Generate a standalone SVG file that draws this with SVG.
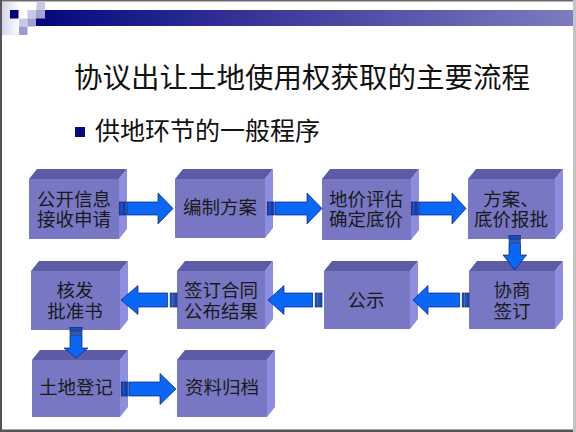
<svg xmlns="http://www.w3.org/2000/svg" width="576" height="432" viewBox="0 0 576 432">
<defs>
<linearGradient id="bar" x1="0" y1="0" x2="1" y2="0">
<stop offset="0" stop-color="#06067e"/>
<stop offset="1" stop-color="#7c7cc0"/>
</linearGradient>
<linearGradient id="fade" x1="0" y1="0" x2="1" y2="0">
<stop offset="0" stop-color="#d4d4ec"/>
<stop offset="1" stop-color="#ffffff"/>
</linearGradient>
<style>
.front{fill:#7777c4;}
.top{fill:#5b5ba6;}
.side{fill:#8e8ee0;}
.lbl{font-family:"Liberation Sans","Noto Sans CJK SC",sans-serif;font-size:18.5px;fill:#1a1a1a;text-anchor:middle;}
.title{font-family:"Liberation Sans","Noto Sans CJK SC",sans-serif;fill:#111;}
.arr{fill:#0a66f4;stroke:#0a1e6e;stroke-width:0.7;stroke-linejoin:miter;}
</style>
</defs>
<rect x="0" y="0" width="576" height="432" fill="#ffffff"/>
<!-- frame -->
<rect x="0" y="0" width="576" height="1.5" fill="#6a6a6a"/>
<rect x="0" y="0" width="2" height="432" fill="#555555"/>
<rect x="0" y="429.5" width="576" height="2.5" fill="#555555"/>
<rect x="573" y="0" width="3" height="432" fill="#c4c4c4"/>
<!-- header decoration -->
<rect x="2" y="2" width="18" height="33" fill="url(#fade)"/>
<rect x="36" y="10" width="537" height="16" fill="url(#bar)"/>
<rect x="10" y="10" width="8.5" height="8.5" fill="#00007e"/>
<rect x="36.5" y="1.5" width="8.5" height="8.5" fill="#c8c8e6"/>
<rect x="27.5" y="10" width="8.5" height="8.5" fill="#c8c8e6"/>
<rect x="36" y="10" width="9" height="8.5" fill="#a4a4d2"/>
<rect x="19" y="18.5" width="8.5" height="8" fill="#c8c8e6"/>
<rect x="27.5" y="18.5" width="8.5" height="8" fill="#a0a0d0"/>
<rect x="19" y="26.5" width="8.5" height="8.5" fill="#9c9cd2"/>
<!-- title -->
<text class="title" x="74" y="88" font-size="28.5">协议出让土地使用权获取的主要流程</text>
<rect x="75" y="127" width="10" height="10" fill="#0a0a80"/>
<text class="title" x="95" y="140" font-size="25">供地环节的一般程序</text>

<g id="node-gongkai">
<path class="top" d="M29,179 L37,169 L127,169 L119,179 Z"/>
<path class="side" d="M119,179 L127,169 L127,229 L119,239 Z"/>
<rect class="front" x="29" y="179" width="90" height="60"/>
<text class="lbl" x="74" y="205.5">公开信息</text>
<text class="lbl" x="74" y="226">接收申请</text>
</g>
<g id="node-bianzhi">
<path class="top" d="M175,179 L183,169 L273,169 L265,179 Z"/>
<path class="side" d="M265,179 L273,169 L273,228 L265,238 Z"/>
<rect class="front" x="175" y="179" width="90" height="59"/>
<text class="lbl" x="220" y="214">编制方案</text>
</g>
<g id="node-dijia">
<path class="top" d="M322,179 L330,169 L419,169 L411,179 Z"/>
<path class="side" d="M411,179 L419,169 L419,230 L411,240 Z"/>
<rect class="front" x="322" y="179" width="89" height="61"/>
<text class="lbl" x="366" y="205.5">地价评估</text>
<text class="lbl" x="366" y="226">确定底价</text>
</g>
<g id="node-baopi">
<path class="top" d="M468,179 L476,169 L563,169 L555,179 Z"/>
<path class="side" d="M555,179 L563,169 L563,229 L555,239 Z"/>
<rect class="front" x="468" y="179" width="87" height="60"/>
<text class="lbl" x="511" y="205.5">方案、</text>
<text class="lbl" x="511" y="226">底价报批</text>
</g>

<g id="node-xieshang">
<path class="top" d="M469,271 L477,261 L563,261 L555,271 Z"/>
<path class="side" d="M555,271 L563,261 L563,319 L555,329 Z"/>
<rect class="front" x="469" y="271" width="86" height="58"/>
<text class="lbl" x="512" y="297">协商</text>
<text class="lbl" x="512" y="318">签订</text>
</g>
<g id="node-gongshi">
<path class="top" d="M324,271 L332,261 L418,261 L410,271 Z"/>
<path class="side" d="M410,271 L418,261 L418,319 L410,329 Z"/>
<rect class="front" x="324" y="271" width="86" height="58"/>
<text class="lbl" x="366" y="307">公示</text>
</g>
<g id="node-qianding">
<path class="top" d="M177,271 L185,261 L273,261 L265,271 Z"/>
<path class="side" d="M265,271 L273,261 L273,319 L265,329 Z"/>
<rect class="front" x="177" y="271" width="88" height="58"/>
<text class="lbl" x="221" y="297">签订合同</text>
<text class="lbl" x="221" y="318">公布结果</text>
</g>
<g id="node-hefa">
<path class="top" d="M31,271 L39,261 L128,261 L120,271 Z"/>
<path class="side" d="M120,271 L128,261 L128,320 L120,330 Z"/>
<rect class="front" x="31" y="271" width="89" height="59"/>
<text class="lbl" x="75" y="297">核发</text>
<text class="lbl" x="75" y="318">批准书</text>
</g>

<g id="node-dengji">
<path class="top" d="M32,360 L40,350 L128,350 L120,360 Z"/>
<path class="side" d="M120,360 L128,350 L128,407 L120,417 Z"/>
<rect class="front" x="32" y="360" width="88" height="57"/>
<text class="lbl" x="76" y="394">土地登记</text>
</g>
<g id="node-ziliao">
<path class="top" d="M177,360 L185,350 L275,350 L267,360 Z"/>
<path class="side" d="M267,360 L275,350 L275,407 L267,417 Z"/>
<rect class="front" x="177" y="360" width="90" height="57"/>
<text class="lbl" x="222" y="394">资料归档</text>
</g>

<g id="connectors">
<!-- row1 right arrows -->
<g>
<rect class="arr" x="119.3" y="202" width="1.6" height="13"/>
<rect class="arr" x="121.9" y="202" width="1.6" height="13"/>
<rect class="arr" x="124.5" y="202" width="1.6" height="13"/>
<path class="arr" d="M127.1,202 L158,202 L158,193 L173,208.5 L158,224 L158,215 L127.1,215 Z"/>
</g>
<g>
<rect class="arr" x="267.3" y="202" width="1.6" height="13"/>
<rect class="arr" x="269.9" y="202" width="1.6" height="13"/>
<rect class="arr" x="272.5" y="202" width="1.6" height="13"/>
<path class="arr" d="M275.1,202 L307,202 L307,193 L322,208.5 L307,224 L307,215 L275.1,215 Z"/>
</g>
<g>
<rect class="arr" x="411.3" y="202" width="1.6" height="13"/>
<rect class="arr" x="413.9" y="202" width="1.6" height="13"/>
<rect class="arr" x="416.5" y="202" width="1.6" height="13"/>
<path class="arr" d="M419.1,202 L452,202 L452,193 L466,208.5 L452,224 L452,215 L419.1,215 Z"/>
</g>
<!-- down arrow 4 -> 5 -->
<g>
<rect class="arr" x="509" y="235.5" width="11.5" height="1.6"/>
<rect class="arr" x="509" y="238.1" width="11.5" height="1.6"/>
<rect class="arr" x="509" y="240.7" width="11.5" height="1.6"/>
<path class="arr" d="M509,243.3 L509,255 L503,255 L514.75,270 L526.5,255 L520.5,255 L520.5,243.3 Z"/>
</g>
<!-- row2 left arrows -->
<g>
<rect class="arr" x="467.4" y="293" width="1.6" height="14"/>
<rect class="arr" x="464.8" y="293" width="1.6" height="14"/>
<rect class="arr" x="462.2" y="293" width="1.6" height="14"/>
<path class="arr" d="M459.6,293 L428,293 L428,285.5 L413,300 L428,314.5 L428,307 L459.6,307 Z"/>
</g>
<g>
<rect class="arr" x="320.4" y="293" width="1.6" height="14"/>
<rect class="arr" x="317.8" y="293" width="1.6" height="14"/>
<rect class="arr" x="315.2" y="293" width="1.6" height="14"/>
<path class="arr" d="M312.6,293 L284,293 L284,285.5 L268,300 L284,314.5 L284,307 L312.6,307 Z"/>
</g>
<g>
<rect class="arr" x="175.4" y="293" width="1.6" height="14"/>
<rect class="arr" x="172.8" y="293" width="1.6" height="14"/>
<rect class="arr" x="170.2" y="293" width="1.6" height="14"/>
<path class="arr" d="M167.6,293 L138,293 L138,285.5 L121,300 L138,314.5 L138,307 L167.6,307 Z"/>
</g>
<!-- down arrow hefa -> dengji -->
<g>
<rect class="arr" x="70" y="327.5" width="12" height="1.6"/>
<rect class="arr" x="70" y="330.1" width="12" height="1.6"/>
<rect class="arr" x="70" y="332.7" width="12" height="1.6"/>
<path class="arr" d="M70,335.3 L70,348 L64,348 L76,358 L88,348 L82,348 L82,335.3 Z"/>
</g>
<!-- row3 right arrow -->
<g>
<rect class="arr" x="121.3" y="382" width="1.6" height="14"/>
<rect class="arr" x="123.9" y="382" width="1.6" height="14"/>
<rect class="arr" x="126.5" y="382" width="1.6" height="14"/>
<path class="arr" d="M129.1,382 L160,382 L160,373.5 L176,389 L160,404.5 L160,396 L129.1,396 Z"/>
</g>
</g>
</svg>
